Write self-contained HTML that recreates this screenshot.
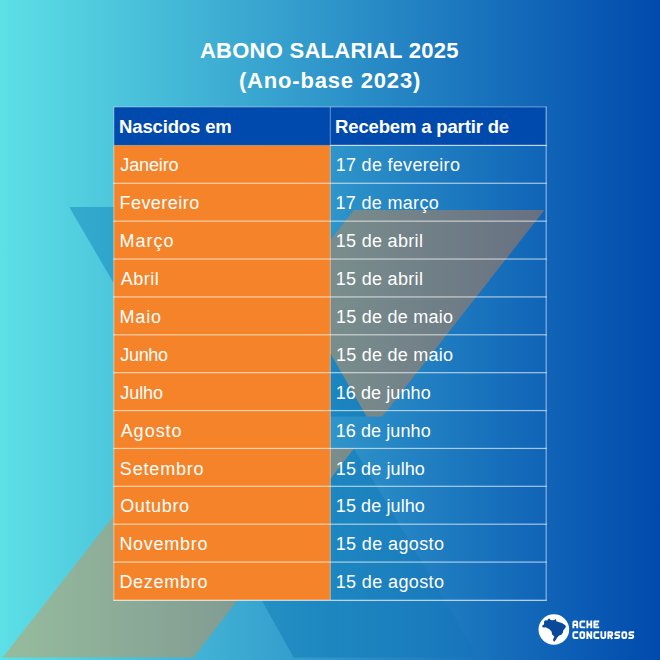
<!DOCTYPE html>
<html><head><meta charset="utf-8"><title>Abono Salarial 2025</title>
<style>
html,body{margin:0;padding:0}
body{width:660px;height:660px;position:relative;overflow:hidden;background:#2f93cc;font-family:"Liberation Sans",sans-serif}
#bg{position:absolute;left:0;top:0}
.t{position:absolute;white-space:nowrap;color:#fff;line-height:24px;height:24px;font-family:"Liberation Sans",sans-serif}
</style></head><body>
<svg id="bg" width="660" height="660" viewBox="0 0 660 660">
<defs><linearGradient id="g" x1="0" y1="0" x2="660" y2="0" gradientUnits="userSpaceOnUse"><stop offset="0" stop-color="#5de0e6"/><stop offset="1" stop-color="#004aad"/></linearGradient><linearGradient id="gb" x1="330" y1="0" x2="480" y2="0" gradientUnits="userSpaceOnUse"><stop offset="0" stop-color="rgb(0,110,175)" stop-opacity="0.38"/><stop offset="1" stop-color="rgb(0,110,175)" stop-opacity="0.12"/></linearGradient></defs>
<rect width="660" height="660" fill="url(#g)"/>
<polygon points="69.2,207 246.6,207 366.6,416.5 191.5,416.5" fill="rgb(0,110,175)" fill-opacity="0.38"/>
<polygon points="353.9,210 544.5,210 382.4,416.5 366.6,416.5 300,300.3 300,278.7" fill="rgb(245,131,41)" fill-opacity="0.38"/>
<polygon points="166.3,448.6 354,448.6 193.4,657.6 2.7,657.6" fill="rgb(245,131,41)" fill-opacity="0.38"/>
<polygon points="354,448.6 478.7,657.6 293.7,657.6 251,581" fill="url(#gb)"/>
<rect x="113.8" y="106.9" width="432.40000000000003" height="38.5" fill="#004aad"/>
<rect x="113.8" y="145.4" width="216.5" height="454.6" fill="#f58329"/>
<rect x="113.8" y="144.80" width="216.5" height="1.2" fill="rgba(255,255,255,0.12)"/>
<rect x="330.3" y="144.80" width="216.50000000000003" height="1.2" fill="rgba(255,255,255,0.75)"/>
<rect x="113.2" y="182.68" width="433.6" height="1.2" fill="rgba(255,255,255,0.62)"/>
<rect x="113.2" y="220.56" width="433.6" height="1.2" fill="rgba(255,255,255,0.62)"/>
<rect x="113.2" y="258.44" width="433.6" height="1.2" fill="rgba(255,255,255,0.62)"/>
<rect x="113.2" y="296.32" width="433.6" height="1.2" fill="rgba(255,255,255,0.62)"/>
<rect x="113.2" y="334.20" width="433.6" height="1.2" fill="rgba(255,255,255,0.62)"/>
<rect x="113.2" y="372.08" width="433.6" height="1.2" fill="rgba(255,255,255,0.62)"/>
<rect x="113.2" y="409.96" width="433.6" height="1.2" fill="rgba(255,255,255,0.62)"/>
<rect x="113.2" y="447.84" width="433.6" height="1.2" fill="rgba(255,255,255,0.62)"/>
<rect x="113.2" y="485.72" width="433.6" height="1.2" fill="rgba(255,255,255,0.62)"/>
<rect x="113.2" y="523.60" width="433.6" height="1.2" fill="rgba(255,255,255,0.62)"/>
<rect x="113.2" y="561.48" width="433.6" height="1.2" fill="rgba(255,255,255,0.62)"/>
<rect x="113.2" y="106.30000000000001" width="433.6" height="1.2" fill="rgba(255,255,255,0.35)"/>
<rect x="113.2" y="599.75" width="433.6" height="1.1" fill="rgba(255,255,255,0.8)"/>
<rect x="113.2" y="106.9" width="1.2" height="493.1" fill="rgba(255,255,255,0.38)"/>
<rect x="545.6" y="106.9" width="1.2" height="493.1" fill="rgba(255,255,255,0.5)"/>
<rect x="329.8" y="106.9" width="1.0" height="493.1" fill="rgba(255,255,255,0.4)"/>
</svg>
<div class="t" id="t1" style="left:199.96px;top:38.68px;font-size:22px;font-weight:700;letter-spacing:0.254px">ABONO SALARIAL 2025</div>
<div class="t" id="t2" style="left:238.88px;top:68.68px;font-size:22px;font-weight:700;letter-spacing:0.819px">(Ano-base 2023)</div>
<div class="t" id="h1" style="left:119.07px;top:114.89px;font-size:18.5px;font-weight:700;letter-spacing:-0.146px">Nascidos em</div>
<div class="t" id="h2" style="left:335.07px;top:114.89px;font-size:18.5px;font-weight:700;letter-spacing:-0.157px">Recebem a partir de</div>
<div class="t" id="m0" style="left:120.31px;top:153.06px;font-size:18px;font-weight:400;letter-spacing:-0.122px">Janeiro</div>
<div class="t" id="d0" style="left:335.67px;top:153.06px;font-size:18px;font-weight:400;letter-spacing:0.298px">17 de fevereiro</div>
<div class="t" id="m1" style="left:119.42px;top:191.06px;font-size:18px;font-weight:400;letter-spacing:0.483px">Fevereiro</div>
<div class="t" id="d1" style="left:335.39px;top:191.06px;font-size:18px;font-weight:400;letter-spacing:0.333px">17 de março</div>
<div class="t" id="m2" style="left:119.42px;top:229.06px;font-size:18px;font-weight:400;letter-spacing:1.009px">Março</div>
<div class="t" id="d2" style="left:335.66px;top:229.06px;font-size:18px;font-weight:400;letter-spacing:0.319px">15 de abril</div>
<div class="t" id="m3" style="left:120.63px;top:267.06px;font-size:18px;font-weight:400;letter-spacing:0.558px">Abril</div>
<div class="t" id="d3" style="left:335.66px;top:267.06px;font-size:18px;font-weight:400;letter-spacing:0.319px">15 de abril</div>
<div class="t" id="m4" style="left:119.42px;top:305.06px;font-size:18px;font-weight:400;letter-spacing:0.890px">Maio</div>
<div class="t" id="d4" style="left:335.94px;top:305.06px;font-size:18px;font-weight:400;letter-spacing:0.244px">15 de de maio</div>
<div class="t" id="m5" style="left:120.31px;top:343.06px;font-size:18px;font-weight:400;letter-spacing:-0.318px">Junho</div>
<div class="t" id="d5" style="left:335.94px;top:343.06px;font-size:18px;font-weight:400;letter-spacing:0.244px">15 de de maio</div>
<div class="t" id="m6" style="left:120.31px;top:381.06px;font-size:18px;font-weight:400;letter-spacing:-0.068px">Julho</div>
<div class="t" id="d6" style="left:335.65px;top:381.06px;font-size:18px;font-weight:400;letter-spacing:0.095px">16 de junho</div>
<div class="t" id="m7" style="left:120.63px;top:419.06px;font-size:18px;font-weight:400;letter-spacing:0.993px">Agosto</div>
<div class="t" id="d7" style="left:335.65px;top:419.06px;font-size:18px;font-weight:400;letter-spacing:0.095px">16 de junho</div>
<div class="t" id="m8" style="left:119.83px;top:457.06px;font-size:18px;font-weight:400;letter-spacing:0.823px">Setembro</div>
<div class="t" id="d8" style="left:335.77px;top:457.06px;font-size:18px;font-weight:400;letter-spacing:0.102px">15 de julho</div>
<div class="t" id="m9" style="left:120.16px;top:494.06px;font-size:18px;font-weight:400;letter-spacing:0.649px">Outubro</div>
<div class="t" id="d9" style="left:335.77px;top:494.06px;font-size:18px;font-weight:400;letter-spacing:0.102px">15 de julho</div>
<div class="t" id="m10" style="left:119.42px;top:532.06px;font-size:18px;font-weight:400;letter-spacing:0.713px">Novembro</div>
<div class="t" id="d10" style="left:335.65px;top:532.06px;font-size:18px;font-weight:400;letter-spacing:0.384px">15 de agosto</div>
<div class="t" id="m11" style="left:119.42px;top:570.06px;font-size:18px;font-weight:400;letter-spacing:0.713px">Dezembro</div>
<div class="t" id="d11" style="left:335.65px;top:570.06px;font-size:18px;font-weight:400;letter-spacing:0.384px">15 de agosto</div>
<svg id="logo" style="position:absolute;left:535px;top:610px" width="110" height="40" viewBox="0 0 110 40">
<circle cx="18.85" cy="19.55" r="15.3" fill="#fff"/>
<g transform="scale(0.0606)"><path fill="#0a489a" d="M115,265 L150,235 L150,185 L175,170 L205,175 L215,150 L240,140 L255,165 L290,170 L320,165 L335,148 L350,160 L350,185 L390,200 L450,220 L500,250 L510,275 L490,310 L465,340 L460,375 L440,405 L400,420 L370,450 L345,490 L320,525 L295,500 L305,470 L320,440 L300,420 L280,400 L275,360 L250,330 L230,310 L200,300 L180,285 L150,290 L125,285 Z"/></g>
<g fill="none" stroke="#fff" stroke-width="1.9" stroke-linejoin="round" stroke-linecap="butt">
<path d="M38.34999999999998,18.300000000000022 L38.34999999999998,12.750000000000021 Q38.34999999999998,11.550000000000022 39.54999999999998,11.550000000000022 L41.04999999999997,11.550000000000022 Q42.24999999999997,11.550000000000022 42.24999999999997,12.750000000000021 L42.24999999999997,18.300000000000022 M38.34999999999998,15.050000000000022 L42.24999999999997,15.050000000000022"/>
<path d="M50.199999999999974,11.550000000000022 L46.54999999999998,11.550000000000022 Q45.34999999999998,11.550000000000022 45.34999999999998,12.750000000000021 L45.34999999999998,16.150000000000023 Q45.34999999999998,17.350000000000023 46.54999999999998,17.350000000000023 L50.199999999999974,17.350000000000023"/>
<path d="M52.34999999999998,10.600000000000023 L52.34999999999998,18.300000000000022 M56.24999999999997,10.600000000000023 L56.24999999999997,18.300000000000022 M52.34999999999998,14.450000000000022 L56.24999999999997,14.450000000000022"/>
<path d="M64.19999999999997,11.550000000000022 L59.34999999999998,11.550000000000022 L59.34999999999998,17.350000000000023 L64.19999999999997,17.350000000000023 M59.34999999999998,14.450000000000022 L63.24999999999997,14.450000000000022"/>
<path d="M43.199999999999974,22.249999999999954 L39.54999999999998,22.249999999999954 Q38.34999999999998,22.249999999999954 38.34999999999998,23.449999999999953 L38.34999999999998,26.849999999999955 Q38.34999999999998,28.049999999999955 39.54999999999998,28.049999999999955 L43.199999999999974,28.049999999999955"/>
<path d="M46.54999999999998,22.249999999999954 L48.04999999999997,22.249999999999954 Q49.24999999999997,22.249999999999954 49.24999999999997,23.449999999999953 L49.24999999999997,26.849999999999955 Q49.24999999999997,28.049999999999955 48.04999999999997,28.049999999999955 L46.54999999999998,28.049999999999955 Q45.34999999999998,28.049999999999955 45.34999999999998,26.849999999999955 L45.34999999999998,23.449999999999953 Q45.34999999999998,22.249999999999954 46.54999999999998,22.249999999999954 Z"/>
<path d="M52.34999999999998,28.999999999999954 L52.34999999999998,21.299999999999955 M56.24999999999997,28.999999999999954 L56.24999999999997,21.299999999999955 M52.34999999999998,22.249999999999954 L56.24999999999997,28.049999999999955"/>
<path d="M64.19999999999997,22.249999999999954 L60.54999999999998,22.249999999999954 Q59.34999999999998,22.249999999999954 59.34999999999998,23.449999999999953 L59.34999999999998,26.849999999999955 Q59.34999999999998,28.049999999999955 60.54999999999998,28.049999999999955 L64.19999999999997,28.049999999999955"/>
<path d="M66.34999999999998,21.299999999999955 L66.34999999999998,26.849999999999955 Q66.34999999999998,28.049999999999955 67.54999999999998,28.049999999999955 L69.04999999999997,28.049999999999955 Q70.24999999999997,28.049999999999955 70.24999999999997,26.849999999999955 L70.24999999999997,21.299999999999955"/>
<path d="M73.34999999999998,28.999999999999954 L73.34999999999998,22.249999999999954 L76.04999999999997,22.249999999999954 Q77.24999999999997,22.249999999999954 77.24999999999997,23.449999999999953 L77.24999999999997,24.549999999999955 Q77.24999999999997,25.549999999999955 76.04999999999997,25.549999999999955 L73.34999999999998,25.549999999999955 M74.94999999999997,25.549999999999955 L77.24999999999997,28.999999999999954"/>
<path d="M85.19999999999997,22.249999999999954 L81.54999999999998,22.249999999999954 Q80.34999999999998,22.249999999999954 80.34999999999998,23.449999999999953 L80.34999999999998,23.949999999999957 Q80.34999999999998,25.149999999999956 81.54999999999998,25.149999999999956 L83.04999999999997,25.149999999999956 Q84.24999999999997,25.149999999999956 84.24999999999997,26.349999999999955 L84.24999999999997,26.849999999999955 Q84.24999999999997,28.049999999999955 83.04999999999997,28.049999999999955 L79.39999999999998,28.049999999999955"/>
<path d="M88.54999999999998,22.249999999999954 L90.04999999999997,22.249999999999954 Q91.24999999999997,22.249999999999954 91.24999999999997,23.449999999999953 L91.24999999999997,26.849999999999955 Q91.24999999999997,28.049999999999955 90.04999999999997,28.049999999999955 L88.54999999999998,28.049999999999955 Q87.34999999999998,28.049999999999955 87.34999999999998,26.849999999999955 L87.34999999999998,23.449999999999953 Q87.34999999999998,22.249999999999954 88.54999999999998,22.249999999999954 Z"/>
<path d="M99.19999999999997,22.249999999999954 L95.54999999999998,22.249999999999954 Q94.34999999999998,22.249999999999954 94.34999999999998,23.449999999999953 L94.34999999999998,23.949999999999957 Q94.34999999999998,25.149999999999956 95.54999999999998,25.149999999999956 L97.04999999999997,25.149999999999956 Q98.24999999999997,25.149999999999956 98.24999999999997,26.349999999999955 L98.24999999999997,26.849999999999955 Q98.24999999999997,28.049999999999955 97.04999999999997,28.049999999999955 L93.39999999999998,28.049999999999955"/>
</g>
</svg>
</body></html>
